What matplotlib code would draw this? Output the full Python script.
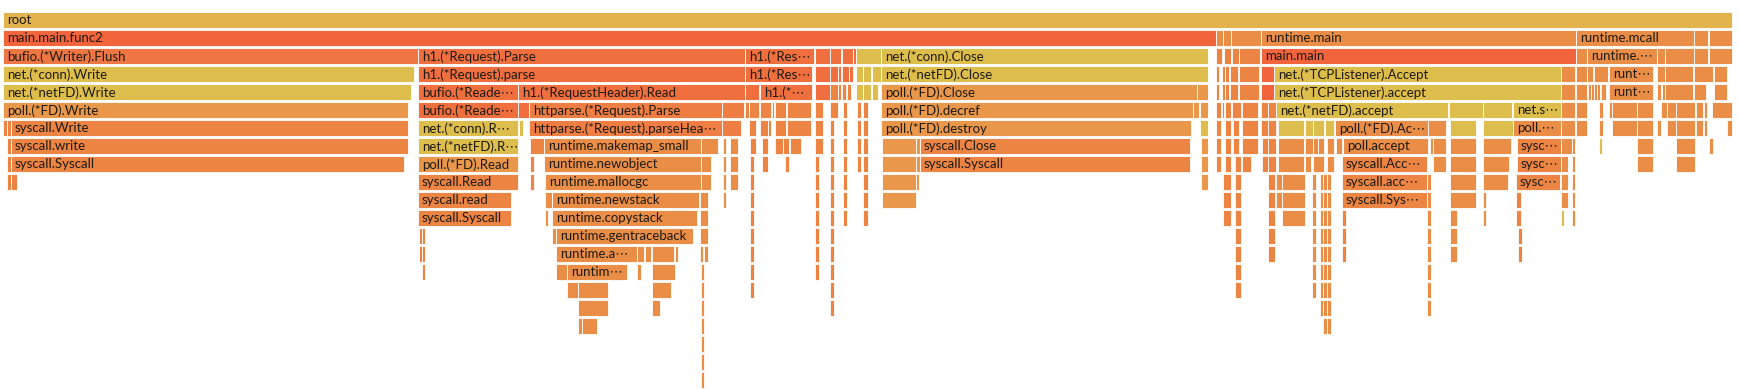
import matplotlib
matplotlib.use("Agg")
import matplotlib.pyplot as plt

# flame graph frames: (depth, first sample, last sample, label, kind)
named_frames = [
    (0, 3, 1731, 'root', 'g'),
    (1, 3, 1215, 'main.main.func2', 'r'),
    (1, 1261, 1575, 'runtime.main', 'm'),
    (1, 1576, 1693, 'runtime.mcall', 'm'),
    (2, 3, 417, 'bufio.(*Writer).Flush', 'F'),
    (2, 418, 744, 'h1.(*Request).Parse', 'R'),
    (2, 745, 813, 'h1.(*Res\u22ef', 'R'),
    (2, 881, 1207, 'net.(*conn).Close', 'y'),
    (2, 1261, 1575, 'main.main', 'r'),
    (2, 1587, 1656, 'runtime.\u22ef', 'm'),
    (3, 3, 413, 'net.(*conn).Write', 'y'),
    (3, 418, 744, 'h1.(*Request).parse', 'R'),
    (3, 745, 811, 'h1.(*Res\u22ef', 'R'),
    (3, 881, 1207, 'net.(*netFD).Close', 'y'),
    (3, 1274, 1560, 'net.(*TCPListener).Accept', 'y'),
    (3, 1609, 1652, 'runt\u22ef', 'm'),
    (4, 3, 410, 'net.(*netFD).Write', 'y'),
    (4, 418, 517, 'bufio.(*Reade\u22ef', 'R'),
    (4, 518, 744, 'h1.(*RequestHeader).Read', 'R'),
    (4, 760, 811, 'h1.(*\u22ef', 'R'),
    (4, 881, 1196, 'poll.(*FD).Close', 'l'),
    (4, 1274, 1560, 'net.(*TCPListener).accept', 'y'),
    (4, 1609, 1652, 'runt\u22ef', 'm'),
    (5, 3, 407, 'poll.(*FD).Write', 'l'),
    (5, 418, 517, 'bufio.(*Reade\u22ef', 'R'),
    (5, 529, 721, 'httparse.(*Request).Parse', 'O'),
    (5, 881, 1192, 'poll.(*FD).decref', 'l'),
    (5, 1276, 1447, 'net.(*netFD).accept', 'y'),
    (5, 1513, 1560, 'net.s\u22ef', 'y'),
    (6, 11, 407, 'syscall.Write', 'o'),
    (6, 418, 517, 'net.(*conn).R\u22ef', 'y'),
    (6, 529, 721, 'httparse.(*Request).parseHea\u22ef', 'O'),
    (6, 881, 1190, 'poll.(*FD).destroy', 'l'),
    (6, 1335, 1427, 'poll.(*FD).Ac\u22ef', 'm'),
    (6, 1513, 1560, 'poll.\u22ef', 'm'),
    (7, 11, 407, 'syscall.write', 'o'),
    (7, 418, 517, 'net.(*netFD).R\u22ef', 'y'),
    (7, 544, 700, 'runtime.makemap_small', 'm'),
    (7, 920, 1189, 'syscall.Close', 'o'),
    (7, 1343, 1427, 'poll.accept', 'm'),
    (7, 1517, 1560, 'sysc\u22ef', 'o'),
    (8, 11, 403, 'syscall.Syscall', 'o'),
    (8, 418, 517, 'poll.(*FD).Read', 'l'),
    (8, 544, 700, 'runtime.newobject', 'm'),
    (8, 920, 1189, 'syscall.Syscall', 'o'),
    (8, 1342, 1426, 'syscall.Acc\u22ef', 'o'),
    (8, 1517, 1560, 'sysc\u22ef', 'o'),
    (9, 418, 517, 'syscall.Read', 'o'),
    (9, 545, 700, 'runtime.mallocgc', 'm'),
    (9, 1342, 1426, 'syscall.acc\u22ef', 'o'),
    (9, 1516, 1559, 'sysc\u22ef', 'o'),
    (10, 418, 510, 'syscall.read', 'o'),
    (10, 552, 698, 'runtime.newstack', 'm'),
    (10, 1342, 1426, 'syscall.Sys\u22ef', 'o'),
    (11, 418, 510, 'syscall.Syscall', 'o'),
    (11, 552, 696, 'runtime.copystack', 'm'),
    (12, 556, 692, 'runtime.gentraceback', 'm'),
    (13, 556, 636, 'runtime.a\u22ef', 'm'),
    (14, 567, 626, 'runtim\u22ef', 'm'),
]

# unlabelled narrow frames, same span repeated over depths: (from depth, to depth, first, last, kind)
write_slivers = [
    (6, 6, 3, 6, 'o'), (6, 9, 7, 10, 'o'), (9, 9, 11, 16, 'o'),
]

parse_slivers = [
    (5, 5, 518, 528, 'R'), (6, 6, 519, 522, 'y'),
    (7, 7, 530, 543, 'o'), (8, 9, 530, 533, 'o'),
    (12, 13, 419, 421, 'o'), (12, 14, 422, 424, 'o'),
    (5, 5, 722, 743, 'O'), (6, 6, 722, 740, 'O'),
    (7, 7, 701, 717, 'm'), (8, 9, 701, 710, 'm'), (10, 12, 700, 707, 'm'),
    (13, 13, 700, 702, 'm'), (13, 13, 704, 707, 'm'), (14, 20, 701, 703, 'm'),
    (7, 10, 723, 725, 'm'), (7, 9, 730, 737, 'm'),
    (10, 10, 545, 551, 'm'), (11, 11, 545, 547, 'm'), (12, 12, 552, 555, 'm'),
    (13, 13, 637, 643, 'm'), (13, 13, 645, 650, 'm'), (13, 13, 652, 673, 'm'),
    (13, 13, 675, 677, 'm'),
    (14, 14, 556, 566, 'm'), (14, 14, 637, 640, 'm'), (14, 14, 652, 674, 'm'),
    (15, 15, 567, 577, 'm'), (15, 16, 578, 607, 'm'), (15, 15, 652, 670, 'm'),
    (16, 16, 652, 659, 'm'), (17, 17, 578, 581, 'm'), (17, 17, 582, 596, 'm'),
]

response_slivers = [
    (2, 2, 815, 829, 'R'), (2, 2, 830, 840, 'R'), (2, 2, 842, 852, 'R'), (2, 2, 853, 855, 'R'),
    (3, 3, 815, 829, 'R'), (3, 3, 830, 837, 'R'), (3, 3, 838, 840, 'R'), (3, 3, 842, 848, 'R'),
    (3, 3, 849, 852, 'R'),
    (4, 4, 745, 758, 'R'), (4, 4, 815, 829, 'R'), (4, 4, 830, 837, 'o'), (4, 4, 838, 840, 'o'),
    (4, 4, 842, 845, 'o'), (4, 4, 847, 850, 'o'),
    (5, 5, 745, 748, 'o'), (5, 5, 749, 758, 'o'), (5, 5, 760, 770, 'o'), (5, 5, 772, 773, 'o'),
    (5, 5, 775, 785, 'o'), (5, 5, 787, 810, 'o'),
    (6, 6, 749, 755, 'o'), (6, 6, 760, 767, 'o'), (6, 6, 768, 770, 'o'), (6, 6, 775, 785, 'o'),
    (6, 6, 787, 810, 'o'),
    (7, 7, 750, 755, 'o'), (7, 8, 762, 767, 'o'), (7, 7, 775, 782, 'o'), (7, 7, 783, 788, 'o'),
    (7, 7, 790, 800, 'o'), (8, 8, 785, 788, 'o'), (8, 15, 750, 753, 'o'),
    (5, 7, 815, 822, 'o'), (8, 14, 815, 818, 'o'),
    (5, 5, 830, 837, 'o'), (6, 16, 830, 833, 'o'),
    (5, 11, 843, 846, 'o'), (5, 8, 857, 860, 'o'), (5, 11, 863, 867, 'o'),
    (2, 2, 856, 880, 'y'), (3, 4, 856, 862, 'y'), (3, 4, 863, 870, 'y'),
    (3, 3, 872, 880, 'y'), (4, 4, 872, 877, 'y'),
]

close_slivers = [
    (7, 10, 882, 915, 'l'), (7, 8, 916, 919, 'l'), (9, 9, 916, 918, 'l'),
    (4, 4, 1197, 1207, 'l'), (5, 5, 1193, 1198, 'l'), (5, 5, 1200, 1207, 'l'),
    (6, 6, 1200, 1207, 'y'), (7, 9, 1201, 1207, 'l'),
    (1, 1, 1216, 1222, 'm'), (1, 1, 1223, 1230, 'm'), (1, 1, 1231, 1260, 'm'),
    (2, 2, 1216, 1221, 'o'), (2, 2, 1224, 1230, 'o'), (2, 2, 1232, 1238, 'o'),
    (2, 2, 1239, 1259, 'o'),
    (3, 4, 1216, 1218, 'o'), (3, 4, 1222, 1224, 'o'), (3, 4, 1225, 1228, 'o'),
    (3, 4, 1230, 1237, 'o'), (3, 4, 1239, 1258, 'o'),
    (5, 8, 1216, 1220, 'o'), (5, 5, 1222, 1223, 'o'), (5, 8, 1225, 1230, 'o'),
    (9, 11, 1223, 1230, 'o'), (5, 5, 1232, 1240, 'o'), (6, 7, 1233, 1238, 'o'),
    (8, 15, 1235, 1240, 'o'), (5, 7, 1242, 1257, 'o'), (8, 8, 1242, 1250, 'o'),
]

accept_slivers = [
    (3, 4, 1261, 1273, 'r'), (5, 6, 1261, 1267, 'o'), (7, 8, 1262, 1267, 'o'),
    (5, 8, 1268, 1275, 'o'), (9, 13, 1268, 1274, 'o'),
    (6, 6, 1278, 1303, 'y'), (7, 8, 1278, 1303, 'm'), (9, 11, 1282, 1304, 'm'),
    (9, 10, 1276, 1281, 'm'),
    (6, 6, 1305, 1312, 'y'), (7, 7, 1305, 1312, 'm'), (8, 8, 1305, 1310, 'm'),
    (6, 6, 1313, 1323, 'y'), (7, 7, 1313, 1317, 'm'), (7, 7, 1318, 1323, 'm'),
    (8, 8, 1313, 1323, 'm'), (9, 15, 1312, 1315, 'm'),
    (6, 6, 1325, 1333, 'y'), (7, 8, 1327, 1333, 'm'),
    (9, 16, 1320, 1323, 'm'), (9, 17, 1323, 1327, 'm'), (9, 17, 1327, 1330, 'm'),
    (7, 7, 1336, 1341, 'm'), (11, 13, 1342, 1345, 'o'),
    (5, 5, 1449, 1482, 'y'), (5, 5, 1483, 1511, 'y'),
    (6, 6, 1428, 1445, 'm'), (7, 7, 1430, 1432, 'm'), (7, 8, 1433, 1445, 'm'),
    (9, 16, 1427, 1430, 'm'),
    (6, 6, 1450, 1475, 'y'), (7, 10, 1450, 1475, 'm'), (11, 13, 1450, 1456, 'm'),
    (6, 6, 1483, 1512, 'y'), (7, 7, 1483, 1510, 'm'), (8, 8, 1483, 1508, 'm'),
    (9, 9, 1483, 1507, 'm'), (10, 11, 1483, 1485, 'm'),
    (10, 11, 1516, 1520, 'o'), (12, 13, 1518, 1521, 'o'),
    (3, 6, 1561, 1574, 'm'), (7, 7, 1561, 1571, 'm'), (8, 10, 1561, 1567, 'm'),
    (11, 11, 1561, 1563, 'y'), (7, 11, 1572, 1574, 'm'),
]

mcall_slivers = [
    (1, 1, 1694, 1707, 'm'), (1, 1, 1709, 1731, 'm'),
    (2, 2, 1576, 1586, 'm'), (2, 2, 1657, 1664, 'm'), (2, 2, 1665, 1693, 'm'),
    (2, 2, 1694, 1707, 'm'), (2, 2, 1709, 1731, 'm'),
    (3, 6, 1576, 1586, 'm'), (3, 3, 1587, 1592, 'm'), (3, 3, 1594, 1607, 'm'),
    (4, 4, 1588, 1590, 'm'), (4, 4, 1591, 1593, 'm'), (4, 4, 1594, 1596, 'm'),
    (4, 4, 1597, 1599, 'm'), (4, 4, 1601, 1605, 'm'),
    (3, 3, 1657, 1664, 'm'), (4, 4, 1657, 1660, 'm'), (4, 4, 1662, 1664, 'm'),
    (3, 4, 1665, 1692, 'm'), (3, 3, 1694, 1712, 'm'), (4, 4, 1694, 1705, 'm'),
    (3, 4, 1714, 1726, 'm'),
    (5, 6, 1599, 1602, 'm'), (7, 7, 1599, 1601, 'y'), (5, 5, 1609, 1611, 'm'),
    (5, 6, 1612, 1636, 'm'), (5, 8, 1637, 1652, 'm'),
    (5, 5, 1661, 1666, 'm'), (6, 6, 1657, 1660, 'm'),
    (5, 6, 1667, 1675, 'm'), (5, 8, 1676, 1694, 'm'), (5, 6, 1696, 1702, 'm'),
    (5, 6, 1704, 1706, 'm'), (5, 5, 1712, 1731, 'm'), (6, 6, 1727, 1731, 'm'),
    (7, 7, 1709, 1712, 'm'),
]

kind_colors = {
    'g': '#E3B34D',  # root
    'r': '#F1643C',  # main
    'R': '#EF6F3F',  # request parsing
    'F': '#EE7642',  # buffered writer
    'O': '#EE7E43',  # httparse
    'y': '#DDBE4C',  # net
    'o': '#EC8544',  # syscall
    'm': '#EA8E47',  # runtime
    'l': '#E8974B',  # poll
}

frames = list(named_frames)
for group in (write_slivers, parse_slivers, response_slivers, close_slivers,
              accept_slivers, mcall_slivers):
    for d0, d1, a, b, kind in group:
        for d in range(d0, d1 + 1):
            frames.append((d, a, b, '', kind))

fig = plt.figure(figsize=(17.39, 3.89), dpi=100)
ax = fig.add_axes([0, 0, 1, 1])

depths = [f[0] for f in frames]
starts = [f[1] for f in frames]
widths = [f[2] - f[1] + 1 for f in frames]
colors = [kind_colors[f[4]] for f in frames]
ax.barh(depths, widths, left=starts, height=0.917, color=colors,
        edgecolor='white', linewidth=0.6, align='center')

for d, a, b, label, kind in named_frames:
    ax.text(a + 4, d + 0.02, label, va='center', ha='left', fontsize=9.5,
            color='#1f1a14', family=['Lato', 'DejaVu Sans'])

ax.set_xlim(0, 1739)
ax.set_ylim(20.50, -1.108)
ax.axis('off')
fig.savefig('out.png', dpi=100, facecolor='white')
